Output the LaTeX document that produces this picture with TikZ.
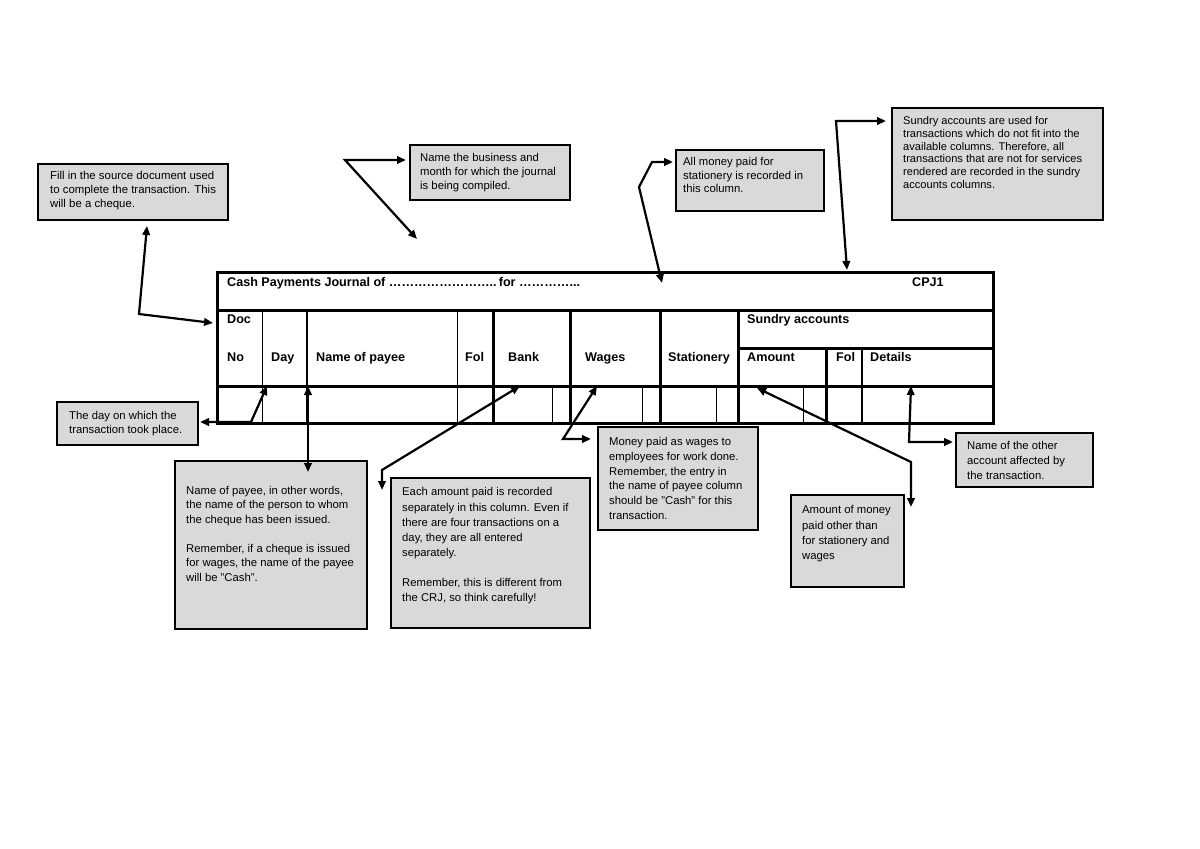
\documentclass[tikz,border=0pt]{standalone}
\usepackage{fontspec}
\setmainfont{Liberation Sans}
\usetikzlibrary{arrows.meta,calc}
\definecolor{boxgray}{RGB}{217,217,217}
\begin{document}
\begin{tikzpicture}[x=1pt,y=-1pt,
  cbox/.style={draw=black, line width=2pt, fill=boxgray, inner sep=0pt, anchor=north west},
  ctext/.style={inner sep=0pt, align=left, anchor=north west},
  thead/.style={inner sep=0pt, anchor=base west, font=\fontsize{12.6}{14}\selectfont\bfseries},
  thickrule/.style={line width=3pt},
  midrule/.style={line width=2pt},
  thinrule/.style={line width=1pt},
  darr/.style={line width=2.2pt, {Triangle[length=9pt,width=7.5pt]}-{Triangle[length=9pt,width=7.5pt]}}
]
\fill[white] (0,0) rectangle (1200,849);
\useasboundingbox (0,0) rectangle (1200,849);

% ---------- table ----------
\draw[thickrule] (217,272) rectangle (993,423);
\draw[thickrule] (217,310) -- (993,310);
\draw[thickrule] (217,386) -- (993,386);
\draw[thickrule] (738,348) -- (993,348);
\draw[thinrule] (262,310) -- (262,423);
\draw[midrule] (307,310) -- (307,423);
\draw[thinrule] (457,310) -- (457,423);
\draw[thickrule] (493,310) -- (493,423);
\draw[thinrule] (552,386) -- (552,423);
\draw[thickrule] (570,310) -- (570,423);
\draw[thinrule] (642,386) -- (642,423);
\draw[thickrule] (660,310) -- (660,423);
\draw[thinrule] (716,386) -- (716,423);
\draw[thickrule] (738,310) -- (738,423);
\draw[thinrule] (803,386) -- (803,423);
\draw[thickrule] (826,348) -- (826,423);
\draw[midrule] (862,348) -- (862,423);

\node[thead] (title) at (227,286) {Cash Payments Journal of ……………………..\,for …………...};
\node[thead] (cpj) at (912,286) {CPJ1};
\node[thead] (hdoc) at (227,323.5) {Doc};
\node[thead] (hno) at (227,361.5) {No};
\node[thead] (hday) at (271,361.5) {Day};
\node[thead] (hname) at (316,361.5) {Name of payee};
\node[thead] (hfol) at (465,361.5) {Fol};
\node[thead] (hbank) at (508,361.5) {Bank};
\node[thead] (hwages) at (585,361.5) {Wages};
\node[thead] (hstat) at (668,361.5) {Stationery};
\node[thead] (hsundry) at (747,323.5) {Sundry accounts};
\node[thead] (hamount) at (747,361.5) {Amount};
\node[thead] (hfol2) at (836,361.5) {Fol};
\node[thead] (hdet) at (870,361.5) {Details};

% ---------- callout boxes ----------
\node[cbox, minimum width=190pt, minimum height=56pt] (b1) at (37,163) {};
\node[ctext, font=\fontsize{11.4}{14}\selectfont] (t1) at ($(b1.north west)+(13,6)$)
  {\strut Fill in the source document used\\ to complete the transaction. This\\ will be a cheque.};

\node[cbox, minimum width=160pt, minimum height=55pt] (b2) at (409,144) {};
\node[ctext, font=\fontsize{11.3}{14}\selectfont] (t2) at ($(b2.north west)+(11,7)$)
  {\strut Name the business and\\ month for which the journal\\ is being compiled.};

\node[cbox, minimum width=148pt, minimum height=61pt] (b3) at (675,149) {};
\node[ctext, font=\fontsize{11.3}{13.5}\selectfont] (t3) at ($(b3.north west)+(8,7)$)
  {\strut All money paid for\\ stationery is recorded in\\ this column.};

\node[cbox, minimum width=211pt, minimum height=112pt] (b4) at (891,107) {};
\node[ctext, font=\fontsize{11.1}{12.9}\selectfont] (t4) at ($(b4.north west)+(12,8)$)
  {\strut Sundry accounts are used for\\ transactions which do not fit into the\\ available columns. Therefore, all\\ transactions that are not for services\\ rendered are recorded in the sundry\\ accounts columns.};

\node[cbox, minimum width=141pt, minimum height=43pt] (b5) at (56,401) {};
\node[ctext, font=\fontsize{11.3}{14}\selectfont] (t5) at ($(b5.north west)+(13,8)$)
  {\strut The day on which the\\ transaction took place.};

\node[cbox, minimum width=192pt, minimum height=168pt] (b6) at (174,460) {};
\node[ctext, font=\fontsize{11.3}{14.5}\selectfont] (t6) at ($(b6.north west)+(12,24)$)
  {\strut Name of payee, in other words,\\ the name of the person to whom\\ the cheque has been issued.\\[14.5pt] Remember, if a cheque is issued\\ for wages, the name of the payee\\ will be "Cash".};

\node[cbox, minimum width=199pt, minimum height=150pt] (b7) at (390,477) {};
\node[ctext, font=\fontsize{11.3}{15.2}\selectfont] (t7) at ($(b7.north west)+(12,8)$)
  {\strut Each amount paid is recorded\\ separately in this column. Even if\\ there are four transactions on a\\ day, they are all entered\\ separately.\\[14.5pt] Remember, this is different from\\ the CRJ, so think carefully!};

\node[cbox, minimum width=160pt, minimum height=103pt] (b8) at (597,426) {};
\node[ctext, font=\fontsize{11.3}{14.8}\selectfont] (t8) at ($(b8.north west)+(12,9)$)
  {\strut Money paid as wages to\\ employees for work done.\\ Remember, the entry in\\ the name of payee column\\ should be "Cash" for this\\ transaction.};

\node[cbox, minimum width=137pt, minimum height=54pt] (b9) at (955,432) {};
\node[ctext, font=\fontsize{11.3}{15}\selectfont] (t9) at ($(b9.north west)+(12,7)$)
  {\strut Name of the other\\ account affected by\\ the transaction.};

\node[cbox, minimum width=113pt, minimum height=92pt] (b10) at (790,494) {};
\node[ctext, font=\fontsize{11.3}{15.2}\selectfont] (t10) at ($(b10.north west)+(12,9)$)
  {\strut Amount of money\\ paid other than\\ for stationery and\\ wages};

% ---------- connector points ----------
\coordinate (c1a) at (147,226); \coordinate (c1v) at (139,314); \coordinate (c1b) at (213,323);
\coordinate (c2v) at (345,160); \coordinate (c2a) at (406,160); \coordinate (c2b) at (417,239);
\coordinate (c3a) at (673,162); \coordinate (c3v) at (652,162); \coordinate (c3w) at (639,187); \coordinate (c3b) at (662,283);
\coordinate (c4a) at (886,121); \coordinate (c4v) at (836,121); \coordinate (c4b) at (847,270);
\coordinate (c5a) at (200,422); \coordinate (c5v) at (251,422); \coordinate (c5b) at (267,386);
\coordinate (c6a) at (308,386); \coordinate (c6b) at (308,472);
\coordinate (c7a) at (520,386); \coordinate (c7v) at (382,470); \coordinate (c7b) at (382,490);
\coordinate (c8a) at (597,386); \coordinate (c8v) at (563,439); \coordinate (c8b) at (591,439);
\coordinate (c9a) at (911,386); \coordinate (c9v) at (909,442); \coordinate (c9b) at (953,442);
\coordinate (c10a) at (757,388); \coordinate (c10v) at (911,462); \coordinate (c10b) at (911,507);

% ---------- connectors ----------
\draw[darr] (c1a) -- (c1v) -- (c1b);
\draw[darr] (c2a) -- (c2v) -- (c2b);
\draw[darr] (c3a) -- (c3v) -- (c3w) -- (c3b);
\draw[darr] (c4a) -- (c4v) -- (c4b);
\draw[darr] (c5a) -- (c5v) -- (c5b);
\draw[darr, line width=2.8pt] (c6a) -- (c6b);
\draw[darr] (c7a) -- (c7v) -- (c7b);
\draw[darr] (c8a) -- (c8v) -- (c8b);
\draw[darr] (c9a) -- (c9v) -- (c9b);
\draw[darr] (c10a) -- (c10v) -- (c10b);
\end{tikzpicture}
\end{document}
